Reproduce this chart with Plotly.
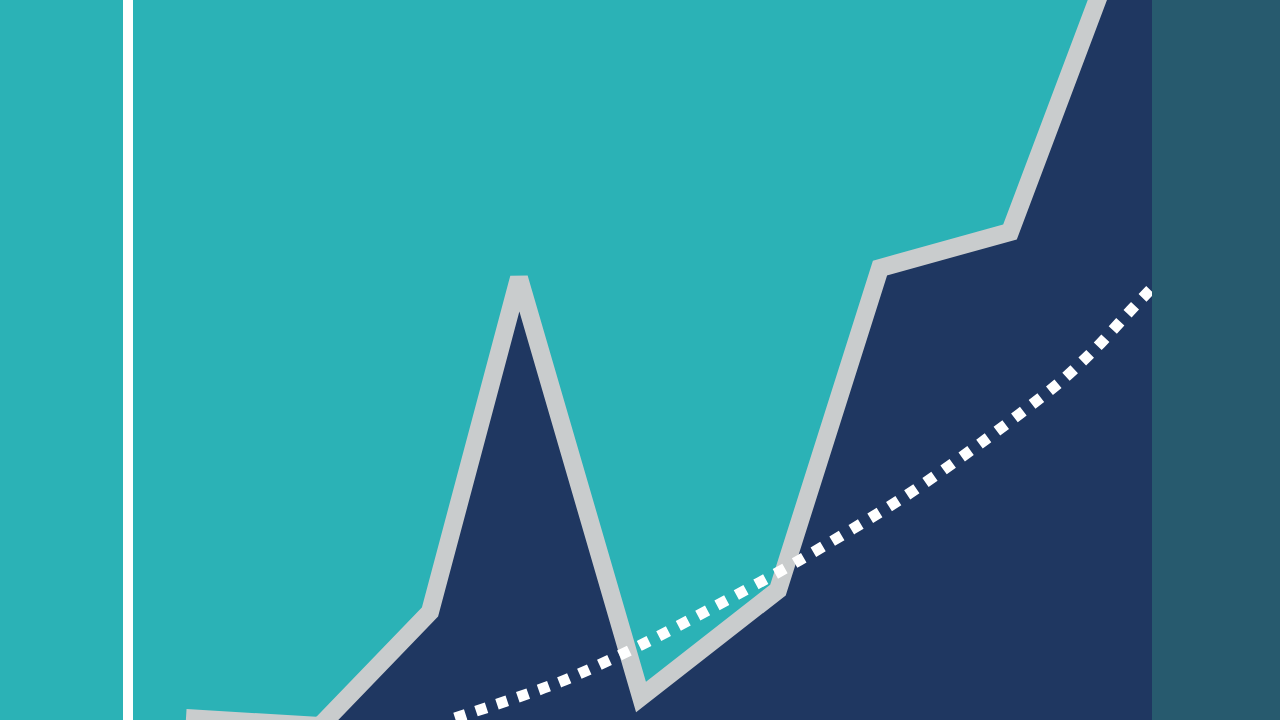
import plotly.graph_objects as go

# Main series (x position, value)
series_x = [186, 320, 430, 519, 641, 778, 880, 1010, 1103]
series_y = [2, -6, 108, 442, 23, 130, 452, 488, 735]

# Trend curve (dotted)
trend_x = [455, 560, 641, 712, 800, 904, 985, 1060, 1097, 1131, 1152]
trend_y = [2, 38, 75, 112, 160, 223, 280, 338, 373, 410, 432]

TEAL = "#2bb2b6"
NAVY = "#1f3761"
GRAY = "#c9cccd"
PANEL = "#275a6e"

fig = go.Figure()

# Navy fill under the line, bounded on the right by the panel edge
fill_x = series_x + [1152, 1152, series_x[0]]
fill_y = series_y + [series_y[-1], -30, -30]
fig.add_trace(go.Scatter(x=fill_x, y=fill_y, mode="lines", fill="toself",
                         fillcolor=NAVY, line=dict(width=0, color=NAVY),
                         hoverinfo="skip", showlegend=False))

fig.add_trace(go.Scatter(x=series_x, y=series_y, mode="lines",
                         line=dict(color=GRAY, width=18),
                         showlegend=False))

fig.add_trace(go.Scatter(x=trend_x, y=trend_y, mode="lines",
                         line=dict(color="white", width=11, dash="11px,11px",
                                   shape="spline", smoothing=0.8),
                         showlegend=False))

fig.add_shape(type="rect", x0=1152, x1=1290, y0=-20, y1=740,
              fillcolor=PANEL, line=dict(width=0), layer="above")
fig.add_shape(type="line", x0=128, x1=128, y0=-20, y1=740,
              line=dict(color="white", width=10), layer="above")

fig.update_layout(
    width=1280, height=720,
    margin=dict(l=0, r=0, t=0, b=0),
    paper_bgcolor=TEAL, plot_bgcolor=TEAL,
    xaxis=dict(range=[0, 1280], visible=False, fixedrange=True),
    yaxis=dict(range=[0, 720], visible=False, fixedrange=True),
    showlegend=False,
)

fig.write_html("out.html", config={"displayModeBar": False},
               post_script="document.body.style.margin='0';document.body.style.overflow='hidden';")
